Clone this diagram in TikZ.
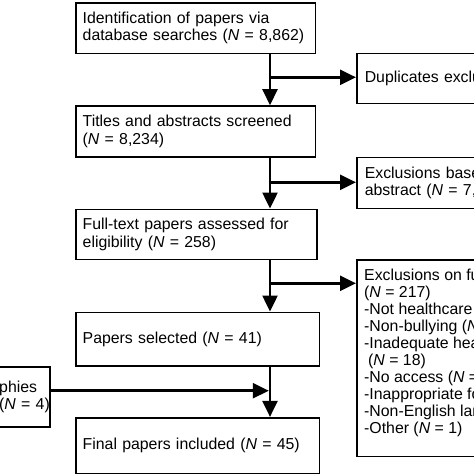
\documentclass[tikz,border=0pt]{standalone}
\usepackage{fontspec}
\setmainfont{Liberation Sans}
\usetikzlibrary{arrows.meta}
\begin{document}
\begin{tikzpicture}[x=1pt,y=-1pt,
  box/.style={draw, line width=1.6pt, rectangle, inner ysep=0pt, inner xsep=7pt, align=left,
    font=\fontsize{15.84}{17.6}\selectfont},
  arr/.style={line width=2.5pt, -{Triangle[length=16pt,width=15pt]}},
  ]
\useasboundingbox (0,0) rectangle (474,474);
\clip (0,0) rectangle (474,474);
% main column
\node[box, text width=225.6pt, minimum height=50.6pt] (ident) at (195.5,28)
  {Identification of papers via\\database searches (\textit{N} = 8,862)};
\node[box, text width=225.6pt, minimum height=50.7pt] (screen) at (195.5,131.35)
  {Titles and abstracts screened\\(\textit{N} = 8,234)};
\node[box, text width=227.3pt, minimum height=50pt] (fulltext) at (196.35,234.3)
  {Full-text papers assessed for\\eligibility (\textit{N} = 258)};
\node[box, text width=229.6pt, minimum height=53.7pt] (selected) at (197.5,339.15)
  {Papers selected (\textit{N} = 41)};
\node[box, text width=229.6pt, minimum height=55.6pt] (final) at (197.5,445.5)
  {Final papers included (\textit{N} = 45)};
% right column
\node[box, anchor=west, text width=200pt, inner xsep=8pt, minimum height=50pt] (dup) at (356,78.3)
  {Duplicates excluded};
\node[box, anchor=west, text width=200pt, inner xsep=8pt, minimum height=51pt] (absexcl) at (356,182.8)
  {Exclusions based\\abstract (\textit{N} = 7,};
\node[box, anchor=north west, minimum width=216pt, minimum height=196.4pt] (fullexcl) at (356,259.3) {};
\node[anchor=north west, inner sep=0pt, align=left, font=\fontsize{15.84}{17.05}\selectfont] (fullexcltxt) at (364,268.5)
  {Exclusions on full\\
   (\textit{N} = 217)\\
   -Not healthcare\\
   -Non-bullying (\textit{N}\\
   -Inadequate health\\
   \hspace*{4pt}(\textit{N} = 18)\\
   -No access (\textit{N} =\\
   -Inappropriate for\\
   -Non-English language\\
   -Other (\textit{N} = 1)};
% left box
\node[box, anchor=east, text width=47pt, inner xsep=4pt, minimum height=60.3pt] (bib) at (51,396.85)
  {phies\\(\textit{N}~=~4)};
% connectors
\coordinate (c1) at (270,77.3);
\coordinate (c2) at (270,182.3);
\coordinate (c3) at (270,283.3);
\coordinate (m) at (268.8,390.7);
\draw[arr] (ident.south -| c1) -- (screen.north -| c1);
\draw[arr] (c1) -- (dup.west |- c1);
\draw[arr] (screen.south -| c2) -- (fulltext.north -| c2);
\draw[arr] (c2) -- (absexcl.west |- c2);
\draw[arr] (fulltext.south -| c3) -- (selected.north -| c3);
\draw[arr] (c3) -- (fullexcl.west |- c3);
\draw[arr] (selected.south -| c1) -- (final.north -| c1);
\draw[arr] (bib.east |- m) -- (m);
\end{tikzpicture}
\end{document}
